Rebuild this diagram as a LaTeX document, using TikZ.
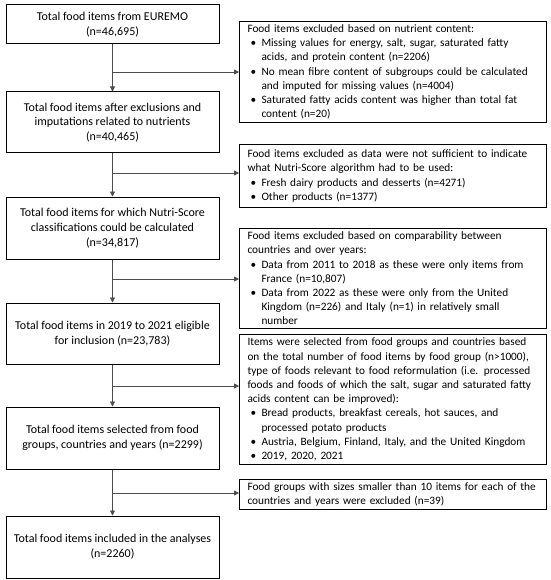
\documentclass[tikz,border=0pt]{standalone}
\usepackage{fontspec}
\setmainfont{Carlito}
\usetikzlibrary{arrows.meta}
\newcommand{\fs}{\fontsize{11.3pt}{14.2pt}\selectfont}
\newcommand{\fl}{\fontsize{12pt}{14.7pt}\selectfont}
\newcommand{\pl}[1]{\mbox{#1}}
\newcommand{\bl}[1]{\mbox{\makebox[14pt][l]{\hspace{3pt}\textbullet}#1}}
\newcommand{\cl}[1]{\mbox{\hspace*{14pt}#1}}
\begin{document}
\begin{tikzpicture}[x=1pt,y=-1pt,
  lbox/.style={draw=black, line width=1pt, minimum width=213pt, align=center, inner sep=0pt, font=\fl},
  rbox/.style={draw=black, line width=1pt, anchor=north west, text width=291pt, inner xsep=8pt, inner ysep=1pt, align=left, font=\fs},
  conn/.style={draw=black!70, line width=0.8pt},
  arr/.style={-{Triangle[length=5pt,width=5pt]}}
]
\useasboundingbox[fill=white] (0,0) rectangle (550,580);
% left column
\node[lbox, minimum height=39pt] (b1) at (112.5,24.4) {Total food items from EUREMO\\(n=46,695)};
\node[lbox, minimum height=61pt] (b2) at (112.5,122.5) {Total food items after exclusions and\\imputations related to nutrients\\(n=40,465)};
\node[lbox, minimum height=62pt] (b3) at (112.5,228) {Total food items for which Nutri-Score\\classifications could be calculated\\(n=34,817)};
\node[lbox, minimum height=61pt] (b4) at (112.5,333.5) {Total food items in 2019 to 2021 eligible\\for inclusion (n=23,783)};
\node[lbox, minimum height=62pt] (b5) at (112.5,438) {Total food items selected from food\\groups, countries and years (n=2299)};
\node[lbox, minimum height=62pt] (b6) at (112.5,547) {Total food items included in the analyses\\(n=2260)};
% right column
\node[rbox, minimum height=101pt] (r1) at (239,21) {\pl{Food items excluded based on nutrient content:}\\
\bl{Missing values for energy, salt, sugar, saturated fatty}\\
\cl{acids, and protein content (n=2206)}\\
\bl{No mean fibre content of subgroups could be calculated}\\
\cl{and imputed for missing values (n=4004)}\\
\bl{Saturated fatty acids content was higher than total fat}\\
\cl{content (n=20)}};
\node[rbox, minimum height=63pt] (r2) at (239,144) {\pl{Food items excluded as data were not sufficient to indicate}\\
\pl{what Nutri-Score algorithm had to be used:}\\
\bl{Fresh dairy products and desserts (n=4271)}\\
\bl{Other products (n=1377)}};
\node[rbox, minimum height=100pt] (r3) at (239,228) {\pl{Food items excluded based on comparability between}\\
\pl{countries and over years:}\\
\bl{Data from 2011 to 2018 as these were only items from}\\
\cl{France (n=10,807)}\\
\bl{Data from 2022 as these were only from the United}\\
\cl{Kingdom (n=226) and Italy (n=1) in relatively small}\\
\cl{number}};
\node[rbox, minimum height=130pt] (r4) at (239,334) {\pl{Items were selected from food groups and countries based}\\
\pl{on the total number of food items by food group (n\textgreater1000),}\\
\pl{type of foods relevant to food reformulation (i.e. processed}\\
\pl{foods and foods of which the salt, sugar and saturated fatty}\\
\pl{acids content can be improved):}\\
\bl{Bread products, breakfast cereals, hot sauces, and}\\
\cl{processed potato products}\\
\bl{Austria, Belgium, Finland, Italy, and the United Kingdom}\\
\bl{2019, 2020, 2021}};
\node[rbox, minimum height=30pt] (r5) at (239,479) {\pl{Food groups with sizes smaller than 10 items for each of the}\\
\pl{countries and years were excluded (n=39)}};
% junctions
\coordinate (j1) at (112.5,72);
\coordinate (j2) at (112.5,173);
\coordinate (j3) at (112.5,279);
\coordinate (j4) at (112.5,386);
\coordinate (j5) at (112.5,493);
% connectors
\draw[conn,arr] (b1) -- (b2);
\draw[conn,arr] (b2) -- (b3);
\draw[conn,arr] (b3) -- (b4);
\draw[conn,arr] (b4) -- (b5);
\draw[conn,arr] (b5) -- (b6);
\draw[conn,arr] (j1) -- (j1 -| r1.west);
\draw[conn,arr] (j2) -- (j2 -| r2.west);
\draw[conn,arr] (j3) -- (j3 -| r3.west);
\draw[conn,arr] (j4) -- (j4 -| r4.west);
\draw[conn,arr] (j5) -- (j5 -| r5.west);
\end{tikzpicture}
\end{document}
